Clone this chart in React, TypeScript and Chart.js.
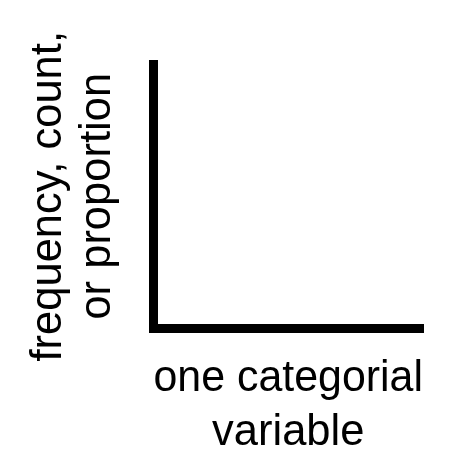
import React, { useEffect, useRef } from 'react';
import { Chart, registerables } from 'chart.js';

Chart.register(...registerables);

// the reference is an empty frame: no categories, no values, only axis titles
const categories: string[] = [];
const counts: number[] = [];
const xTitle = ['one categorial', 'variable'];
const yTitle = ['frequency, count,', 'or proportion'];

const FONT = '"Liberation Sans", Arial, sans-serif';

const App: React.FC = () => {
    const canvasRef = useRef<HTMLCanvasElement>(null);
    const chartRef = useRef<Chart | null>(null);

    useEffect(() => {
        if (!canvasRef.current) return;
        if (chartRef.current) chartRef.current.destroy();

        chartRef.current = new Chart(canvasRef.current, {
            type: 'bar',
            data: {
                labels: categories,
                datasets: [{ data: counts, backgroundColor: '#000' }],
            },
            options: {
                animation: false,
                responsive: true,
                maintainAspectRatio: false,
                layout: { padding: { top: 64, right: 51, bottom: 0, left: 0 } },
                plugins: { legend: { display: false }, tooltip: { enabled: false } },
                scales: {
                    x: {
                        type: 'category',
                        grid: { display: false, drawTicks: false },
                        border: { display: true, color: '#000', width: 9 },
                        ticks: { display: false },
                        title: {
                            display: true,
                            text: xTitle,
                            color: '#000',
                            font: { family: FONT, size: 43.5, lineHeight: 54 / 43.5 },
                            padding: { top: 23.5, bottom: 3 },
                        },
                    },
                    y: {
                        type: 'linear',
                        min: 0,
                        max: 1,
                        grid: { display: false, drawTicks: false },
                        border: { display: true, color: '#000', width: 9 },
                        ticks: { display: false },
                        title: {
                            display: true,
                            text: yTitle,
                            color: '#000',
                            font: { family: FONT, size: 43.5, lineHeight: 49 / 43.5 },
                            padding: { top: 24.5, bottom: 31 },
                        },
                    },
                },
            },
        });

        return () => {
            if (chartRef.current) {
                chartRef.current.destroy();
                chartRef.current = null;
            }
        };
    }, []);

    return (
        <div style={{ position: 'fixed', left: 0, top: 0, width: 474, height: 463, background: '#fff' }}>
            <canvas ref={canvasRef}></canvas>
        </div>
    );
};

export default App;
